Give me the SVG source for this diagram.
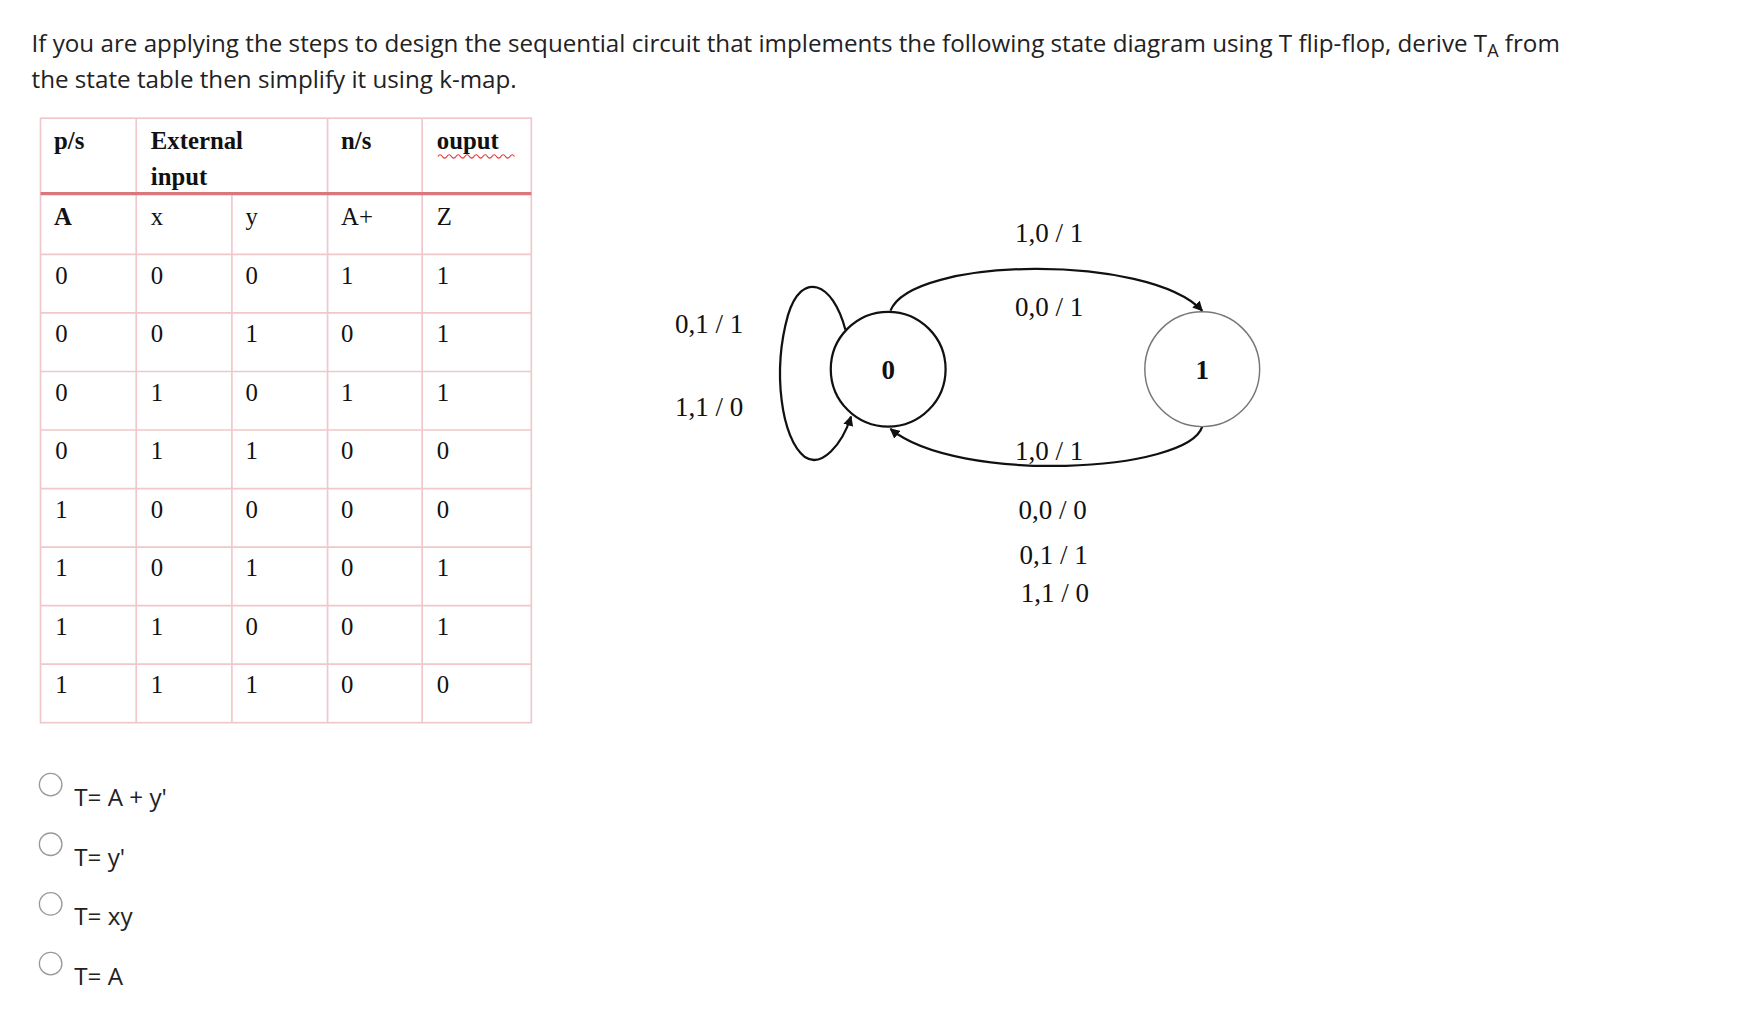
<svg xmlns="http://www.w3.org/2000/svg" width="1756" height="1016" viewBox="0 0 1756 1016">
<defs>
<style>
.t{font-family:"Open Sans","Liberation Sans",sans-serif;font-size:21.5px;fill:#222}
.s{font-family:"Liberation Serif",serif;font-size:22px;fill:#111}
.b{font-weight:bold}
.l{font-family:"Liberation Serif",serif;font-size:24px;fill:#111;text-anchor:middle}
.g{stroke:#f0c8cc;stroke-width:1.5;fill:none}
.e{fill:none;stroke:#111;stroke-width:2}
.r{fill:#fff;stroke:#999;stroke-width:1.2}
</style>
<marker id="a" viewBox="0 0 10 10" refX="9" refY="5" markerWidth="9" markerHeight="9" orient="auto" markerUnits="userSpaceOnUse"><path d="M0,0L10,5L0,10z" fill="#111"/></marker>
</defs>
<rect width="1756" height="1016" fill="#fff"/>
<g transform="scale(1.1257)">
<g id="title">
<text class="t" x="28" y="46">If you are applying the steps to design the sequential circuit that implements the following state diagram using T flip-flop, derive T<tspan font-size="16" dy="5">A</tspan><tspan dy="-5"> from</tspan></text>
<text class="t" x="28" y="78">the state table then simplify it using k-map.</text>
</g>
<g id="table">
<rect class="g" x="36" y="105" width="436" height="537"/>
<path class="g" d="M121,105V642M206,172V642M291,105V642M375,105V642M36,226H472M36,278H472M36,330H472M36,382H472M36,434H472M36,486H472M36,538H472M36,590H472"/>
<line x1="36" y1="172" x2="472" y2="172" stroke="#d9777d" stroke-width="3"/>
<g class="s b"><text x="48" y="132">p/s</text><text x="134" y="132">External</text><text x="134" y="164">input</text><text x="303" y="132">n/s</text><text x="388" y="132">ouput</text></g>
<path d="M389,139q2,-3 4,0t4,0t4,0t4,0t4,0t4,0t4,0t4,0t4,0t4,0t4,0t4,0t4,0t4,0t4,0t4,0t4,0" fill="none" stroke="#e03030" stroke-width="1"/>
<text class="s b" x="48" y="200">A</text><text class="s" x="134" y="200">x</text><text class="s" x="218" y="200">y</text><text class="s" x="303" y="200">A+</text><text class="s" x="388" y="200">Z</text>
<g class="s">
<text x="49" y="252">0</text><text x="134" y="252">0</text><text x="218" y="252">0</text><text x="303" y="252">1</text><text x="388" y="252">1</text>
<text x="49" y="304">0</text><text x="134" y="304">0</text><text x="218" y="304">1</text><text x="303" y="304">0</text><text x="388" y="304">1</text>
<text x="49" y="356">0</text><text x="134" y="356">1</text><text x="218" y="356">0</text><text x="303" y="356">1</text><text x="388" y="356">1</text>
<text x="49" y="408">0</text><text x="134" y="408">1</text><text x="218" y="408">1</text><text x="303" y="408">0</text><text x="388" y="408">0</text>
<text x="49" y="460">1</text><text x="134" y="460">0</text><text x="218" y="460">0</text><text x="303" y="460">0</text><text x="388" y="460">0</text>
<text x="49" y="512">1</text><text x="134" y="512">0</text><text x="218" y="512">1</text><text x="303" y="512">0</text><text x="388" y="512">1</text>
<text x="49" y="564">1</text><text x="134" y="564">1</text><text x="218" y="564">0</text><text x="303" y="564">0</text><text x="388" y="564">1</text>
<text x="49" y="616">1</text><text x="134" y="616">1</text><text x="218" y="616">1</text><text x="303" y="616">0</text><text x="388" y="616">0</text>
</g>
</g>
<g id="connectors">
<path class="e" d="M751,293C740,250 712,240 700,280C686,330 694,390 715,406C730,416 748,395 756,370" marker-end="url(#a)"/>
<path class="e" d="M791,276C810,228 1020,225 1068,276" marker-end="url(#a)"/>
<path class="e" d="M1068,379C1055,420 850,430 791,381" marker-end="url(#a)"/>
</g>
<g id="state0"><circle cx="789" cy="328" r="51" fill="#fff" stroke="#111" stroke-width="2"/><text class="l b" x="789" y="337">0</text></g>
<g id="state1"><circle cx="1068" cy="328" r="51" fill="#fff" stroke="#777" stroke-width="1.3"/><text class="l b" x="1068" y="337">1</text></g>
<g id="labels">
<text class="l" x="932" y="215">1,0 / 1</text><text class="l" x="932" y="281">0,0 / 1</text>
<text class="l" x="630" y="296">0,1 / 1</text><text class="l" x="630" y="370">1,1 / 0</text>
<text class="l" x="932" y="409">1,0 / 1</text><text class="l" x="935" y="461">0,0 / 0</text>
<text class="l" x="936" y="501">0,1 / 1</text><text class="l" x="937" y="535">1,1 / 0</text>
</g>
<g id="options">
<circle class="r" cx="45" cy="697" r="10"/><text class="t" x="66" y="716">T= A + y'</text>
<circle class="r" cx="45" cy="750" r="10"/><text class="t" x="66" y="769">T= y'</text>
<circle class="r" cx="45" cy="803" r="10"/><text class="t" x="66" y="822">T= xy</text>
<circle class="r" cx="45" cy="856" r="10"/><text class="t" x="66" y="875">T= A</text>
</g>
</g>
</svg>
